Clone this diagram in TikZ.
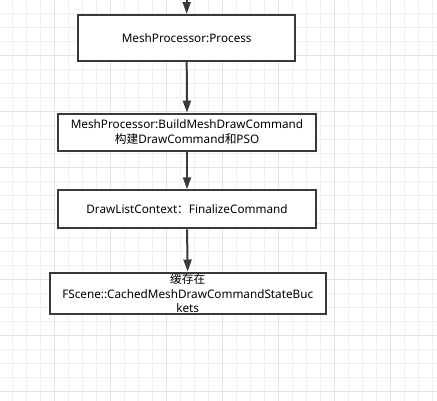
\documentclass[tikz,border=0pt]{standalone}
\usepackage{fontspec}
\setmainfont{Noto Sans}
\newfontfamily\cjk{Noto Sans CJK SC}
\usetikzlibrary{arrows.meta}
\definecolor{edge}{HTML}{36393D}
\definecolor{gridminor}{HTML}{F0F0F0}
\definecolor{gridmajor}{HTML}{E4E4E4}
\begin{document}
\begin{tikzpicture}[x=0.75pt,y=-0.75pt,
  box/.style={draw=edge,line width=1.5pt,fill=white,rectangle,inner sep=0pt,align=center,
    font=\fontsize{8.8pt}{11pt}\selectfont,text=black},
  conn/.style={draw=edge,line width=1.5pt,-{Triangle[length=9pt,width=6pt]}}]
\useasboundingbox (0,0) rectangle (437,401);
\fill[white] (0,0) rectangle (437,401);
% grid
\foreach \i in {0,...,30} {
  \draw[gridminor,line width=0.75pt] ({12.7+14*\i},0) -- ({12.7+14*\i},401);
  \draw[gridminor,line width=0.75pt] (0,{13.3+14*\i}) -- (437,{13.3+14*\i});
}
\foreach \i in {0,...,7} {
  \draw[gridmajor,line width=0.75pt] ({54.7+56*\i},0) -- ({54.7+56*\i},401);
  \draw[gridmajor,line width=0.75pt] (0,{55.3+56*\i}) -- (437,{55.3+56*\i});
}
\coordinate (top) at (186.7,0);
\node[box,minimum width=162.5pt,minimum height=34.5pt] (b1) at (186.7,38) {MeshProcessor:Process};
\node[box,minimum width=194pt,minimum height=28pt] (b2) at (187,132.3) {MeshProcessor:BuildMeshDrawCommand\\{\cjk 构建}DrawCommand{\cjk 和}PSO};
\node[box,minimum width=194pt,minimum height=28.5pt] (b3) at (187,209.3) {DrawListContext{\cjk ：}FinalizeCommand};
\node[box,minimum width=207pt,minimum height=31pt] (b4) at (187.7,293.2) {{\cjk 缓存在}\\FScene::CachedMeshDrawCommandStateBuc\\kets};
\draw[conn] (top) -- (b1.north);
\draw[conn] (b1.south) -- (b2.north);
\draw[conn] (b2.south) -- (b3.north);
\draw[conn] (b3.south) -- (b4.north);
\end{tikzpicture}
\end{document}
